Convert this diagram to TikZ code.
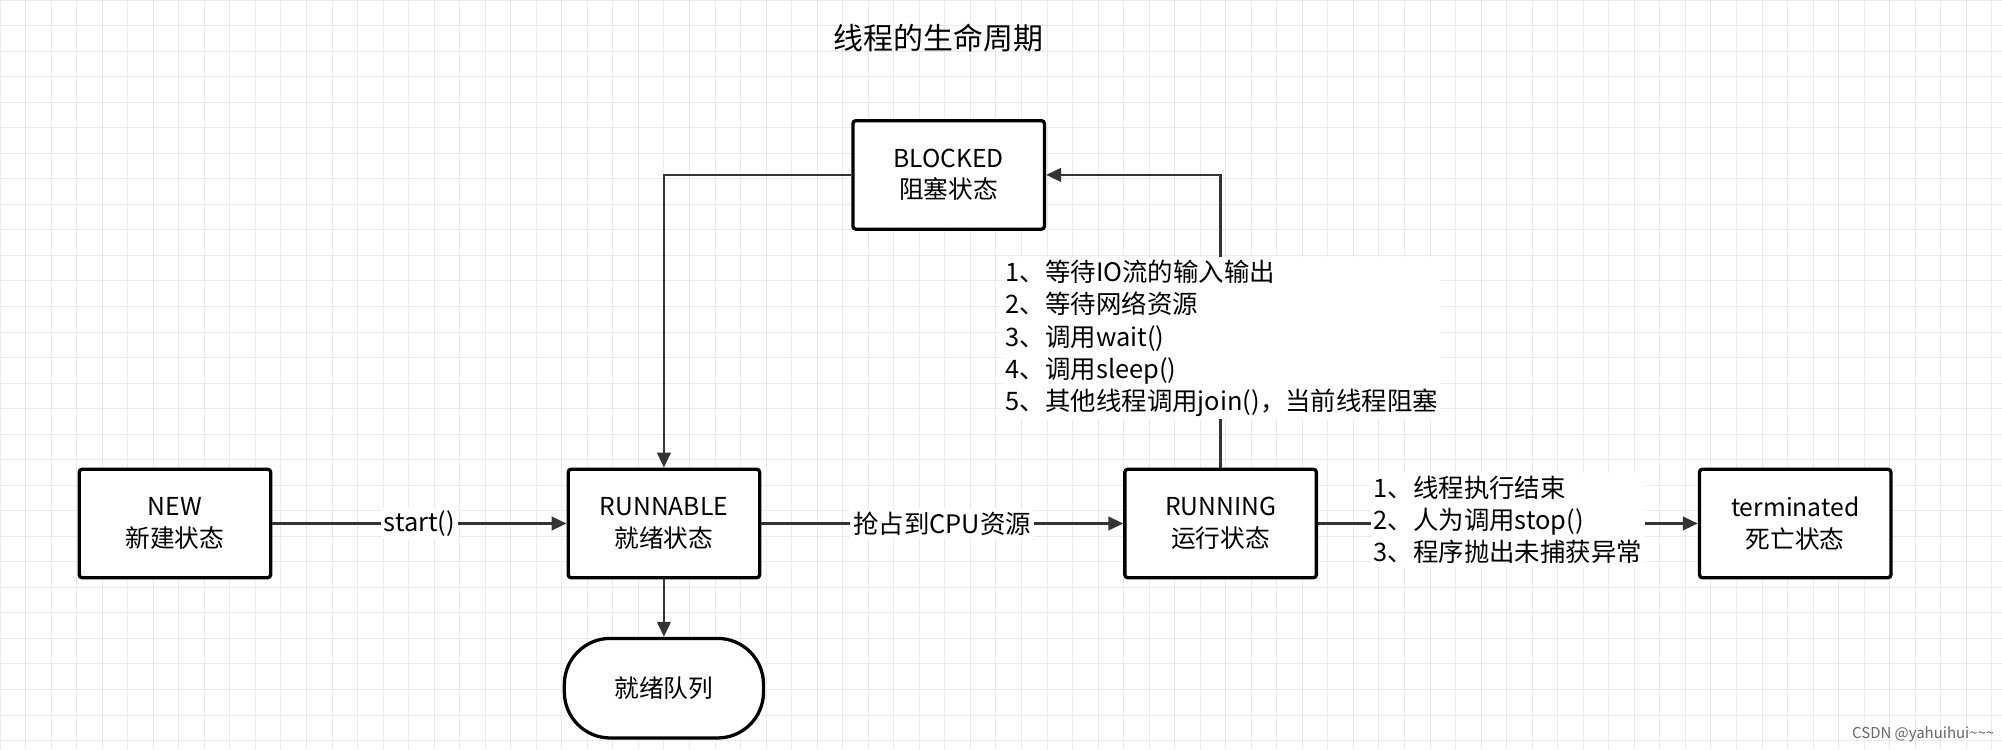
\documentclass[tikz,border=0pt]{standalone}
\usepackage{fontspec}
\setmainfont{Noto Sans CJK SC}
\usetikzlibrary{arrows.meta,positioning}
\tikzset{
  state/.style={draw=black, line width=2.2pt, rounded corners=2pt, minimum width=150*0.03cm,
    minimum height=85*0.03cm, align=center, font=\fontsize{16.5}{21}\selectfont, fill=white},
  queue/.style={state, rounded corners=36*0.03cm, minimum width=156*0.03cm, minimum height=78*0.03cm},
  flow/.style={draw=black!80, line width=1.8pt, -{Triangle[length=10pt,width=9pt]}},
  lbl/.style={fill=white, inner sep=2pt, font=\fontsize{17}{21.5}\selectfont},
}
\begin{document}
\begin{tikzpicture}[x=0.03cm, y=-0.03cm]
    % background
    \useasboundingbox (0,0) rectangle (1568,587);
    \fill [white] (0,0) rectangle (1568,587);
    \draw [step=20*0.03cm, black!8, line width=0.6pt] (0,0) grid (1568,587);

    % title
    \node [font=\fontsize{20}{24}\selectfont] (title) at (735,30) {线程的生命周期};

    % states
    \node [state] (blocked) at (743,137) {BLOCKED\\阻塞状态};
    \node [state] (new) at (137,410) {NEW\\新建状态};
    \node [state] (runnable) at (520,410) {RUNNABLE\\就绪状态};
    \node [state] (running) at (956,410) {RUNNING\\运行状态};
    \node [state] (dead) at (1406,410) {terminated\\死亡状态};
    \node [queue] (queue) at (520,539) {就绪队列};
    \coordinate (corner) at (running.north |- blocked.east);

    % transitions
    \draw [flow] (new) -- node [lbl] {start()} (runnable);
    \draw [flow] (runnable) -- node [lbl] {抢占到CPU资源} (running);
    \draw [flow] (running) -- node [lbl, align=left, yshift=3*0.03cm]
      {1、线程执行结束\\2、人为调用stop()\\3、程序抛出未捕获异常} (dead);
    \draw [flow] (running.north) -- (corner) -- (blocked.east);
    \node [lbl, align=left] (why) at (957,265)
      {1、等待IO流的输入输出\\2、等待网络资源\\3、调用wait()\\4、调用sleep()\\5、其他线程调用join()，当前线程阻塞};
    \draw [flow] (blocked.west) -| (runnable.north);
    \draw [flow] (runnable) -- (queue);

    % watermark
    \node [anchor=south east, font=\fontsize{10}{12}\selectfont, text=black!60] (mark) at (1566,585) {CSDN @yahuihui\textasciitilde\textasciitilde\textasciitilde};
\end{tikzpicture}
\end{document}
